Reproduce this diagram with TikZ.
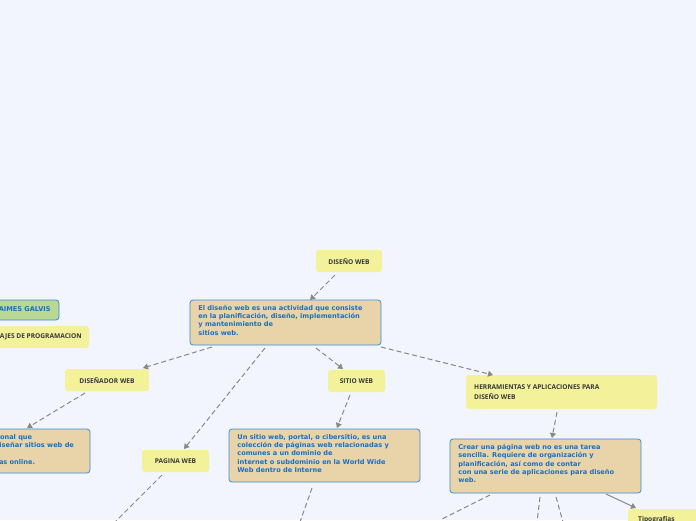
\documentclass[tikz,border=0pt]{standalone}
\usepackage{fontspec}
\setmainfont{Open Sans}
\newfontfamily\vfont{DejaVu Sans}
\usetikzlibrary{arrows.meta}
\definecolor{bg}{HTML}{F2F5FE}
\definecolor{yel}{HTML}{F3F29B}
\definecolor{bei}{HTML}{E8D4A8}
\definecolor{bdr}{HTML}{3C8CD9}
\definecolor{btx}{HTML}{1A6FC4}
\definecolor{grn}{HTML}{B8D894}
\definecolor{lnk}{HTML}{888888}
\tikzset{
 ybox/.style={fill=yel,rounded corners=3pt,font=\bfseries\fontsize{6.6}{10}\selectfont\color{black!78},align=left,inner sep=0pt},
 dbox/.style={fill=bei,draw=bdr,line width=0.8pt,rounded corners=3pt,font=\vfont\bfseries\fontsize{6.6}{8.2}\selectfont\color{btx},align=left,inner sep=0pt},
 gbox/.style={fill=grn,draw=bdr,line width=0.8pt,rounded corners=3pt,font=\vfont\bfseries\fontsize{6.6}{8}\selectfont\color{btx},inner sep=0pt},
 lk/.style={draw=lnk,line width=1pt,dash pattern=on 5pt off 3pt,-{Triangle[length=5pt,width=6pt]}},
}
\begin{document}
\begin{tikzpicture}[x=1pt,y=-1pt]
\useasboundingbox (0,0) rectangle (696,520);
\clip (0,0) rectangle (696,520);
\fill[bg] (0,0) rectangle (696,520);
\path[ybox] (316,250) rectangle (382,272); \node[ybox] (dw) at (349,261) {DISEÑO WEB};
\coordinate (dwb) at (335,275);
\draw[dbox] (190,300) rectangle (381,345);
\node[dbox,fill=none,draw=none,anchor=north west] (m) at (198,305) {El diseño web es una actividad que consiste\\en la planificación, diseño, implementación\\y mantenimiento de\\sitios web.};
\draw[gbox] (-40,300) rectangle (59,320);
\node[gbox,fill=none,draw=none,anchor=east] (g) at (51,310) {JAIMES GALVIS};
\path[ybox] (-60,326) rectangle (89,348);
\node[ybox,anchor=east] (lp) at (82,337) {LENGUAJES DE PROGRAMACION};
\path[ybox] (65,369) rectangle (149,391); \node[ybox] (dz) at (107,380) {DISEÑADOR WEB};
\draw[dbox] (-80,429) rectangle (90,473);
\node[dbox,fill=none,draw=none,anchor=north west] (lb) at (-50,434) {Aquel profesional que\\se dedica a diseñar sitios web de\\empresas,\\blogs o tiendas online.};
\path[ybox] (142,450) rectangle (209,472); \node[ybox] (pw) at (175.5,461) {PAGINA WEB};
\path[ybox] (328,370) rectangle (385,392); \node[ybox] (sw) at (356.5,381) {SITIO WEB};
\draw[dbox] (229,429) rectangle (420,482);
\node[dbox,fill=none,draw=none,anchor=north west] (sb) at (237,434) {Un sitio web, portal, o cibersitio, es una\\colección de páginas web relacionadas y\\comunes a un dominio de\\internet o subdominio en la World Wide\\Web dentro de Interne};
\path[ybox] (466,375) rectangle (657,409);
\node[ybox,anchor=west] (hr) at (474,392) {HERRAMIENTAS Y APLICACIONES PARA\\DISEÑO WEB};
\draw[dbox] (450,439) rectangle (641,493);
\node[dbox,fill=none,draw=none,anchor=north west] (cb) at (458,444) {Crear una página web no es una tarea\\sencilla. Requiere de organización y\\planificación, así como de contar\\con una serie de aplicaciones para diseño\\web.};
\path[ybox] (628,509) rectangle (700,540);
\node[ybox,anchor=north west] (tp) at (638,516) {Tipografías};
\draw[lk] (dwb) -- (310,300);
\draw[lk] (212,347) -- (143,368);
\draw[lk] (265,348) -- (184,449);
\draw[lk] (316,348) -- (343,369);
\draw[lk] (381,347) -- (493,375);
\draw[lk] (85,393) -- (27,428);
\draw[lk] (350,395) -- (337,428);
\draw[lk] (557,412) -- (552,438);
\draw[lk,-{Triangle[length=5pt,width=6pt]},solid] (606,494) -- (636,508);
\draw[lk,-] (162,475) -- (115,522);
\draw[lk,-] (312,488) -- (300,522);
\draw[lk,-] (490,495) -- (440,520);
\draw[lk,-] (540,497) -- (537,522);
\draw[lk,-] (556,497) -- (563,522);
\end{tikzpicture}
\end{document}
